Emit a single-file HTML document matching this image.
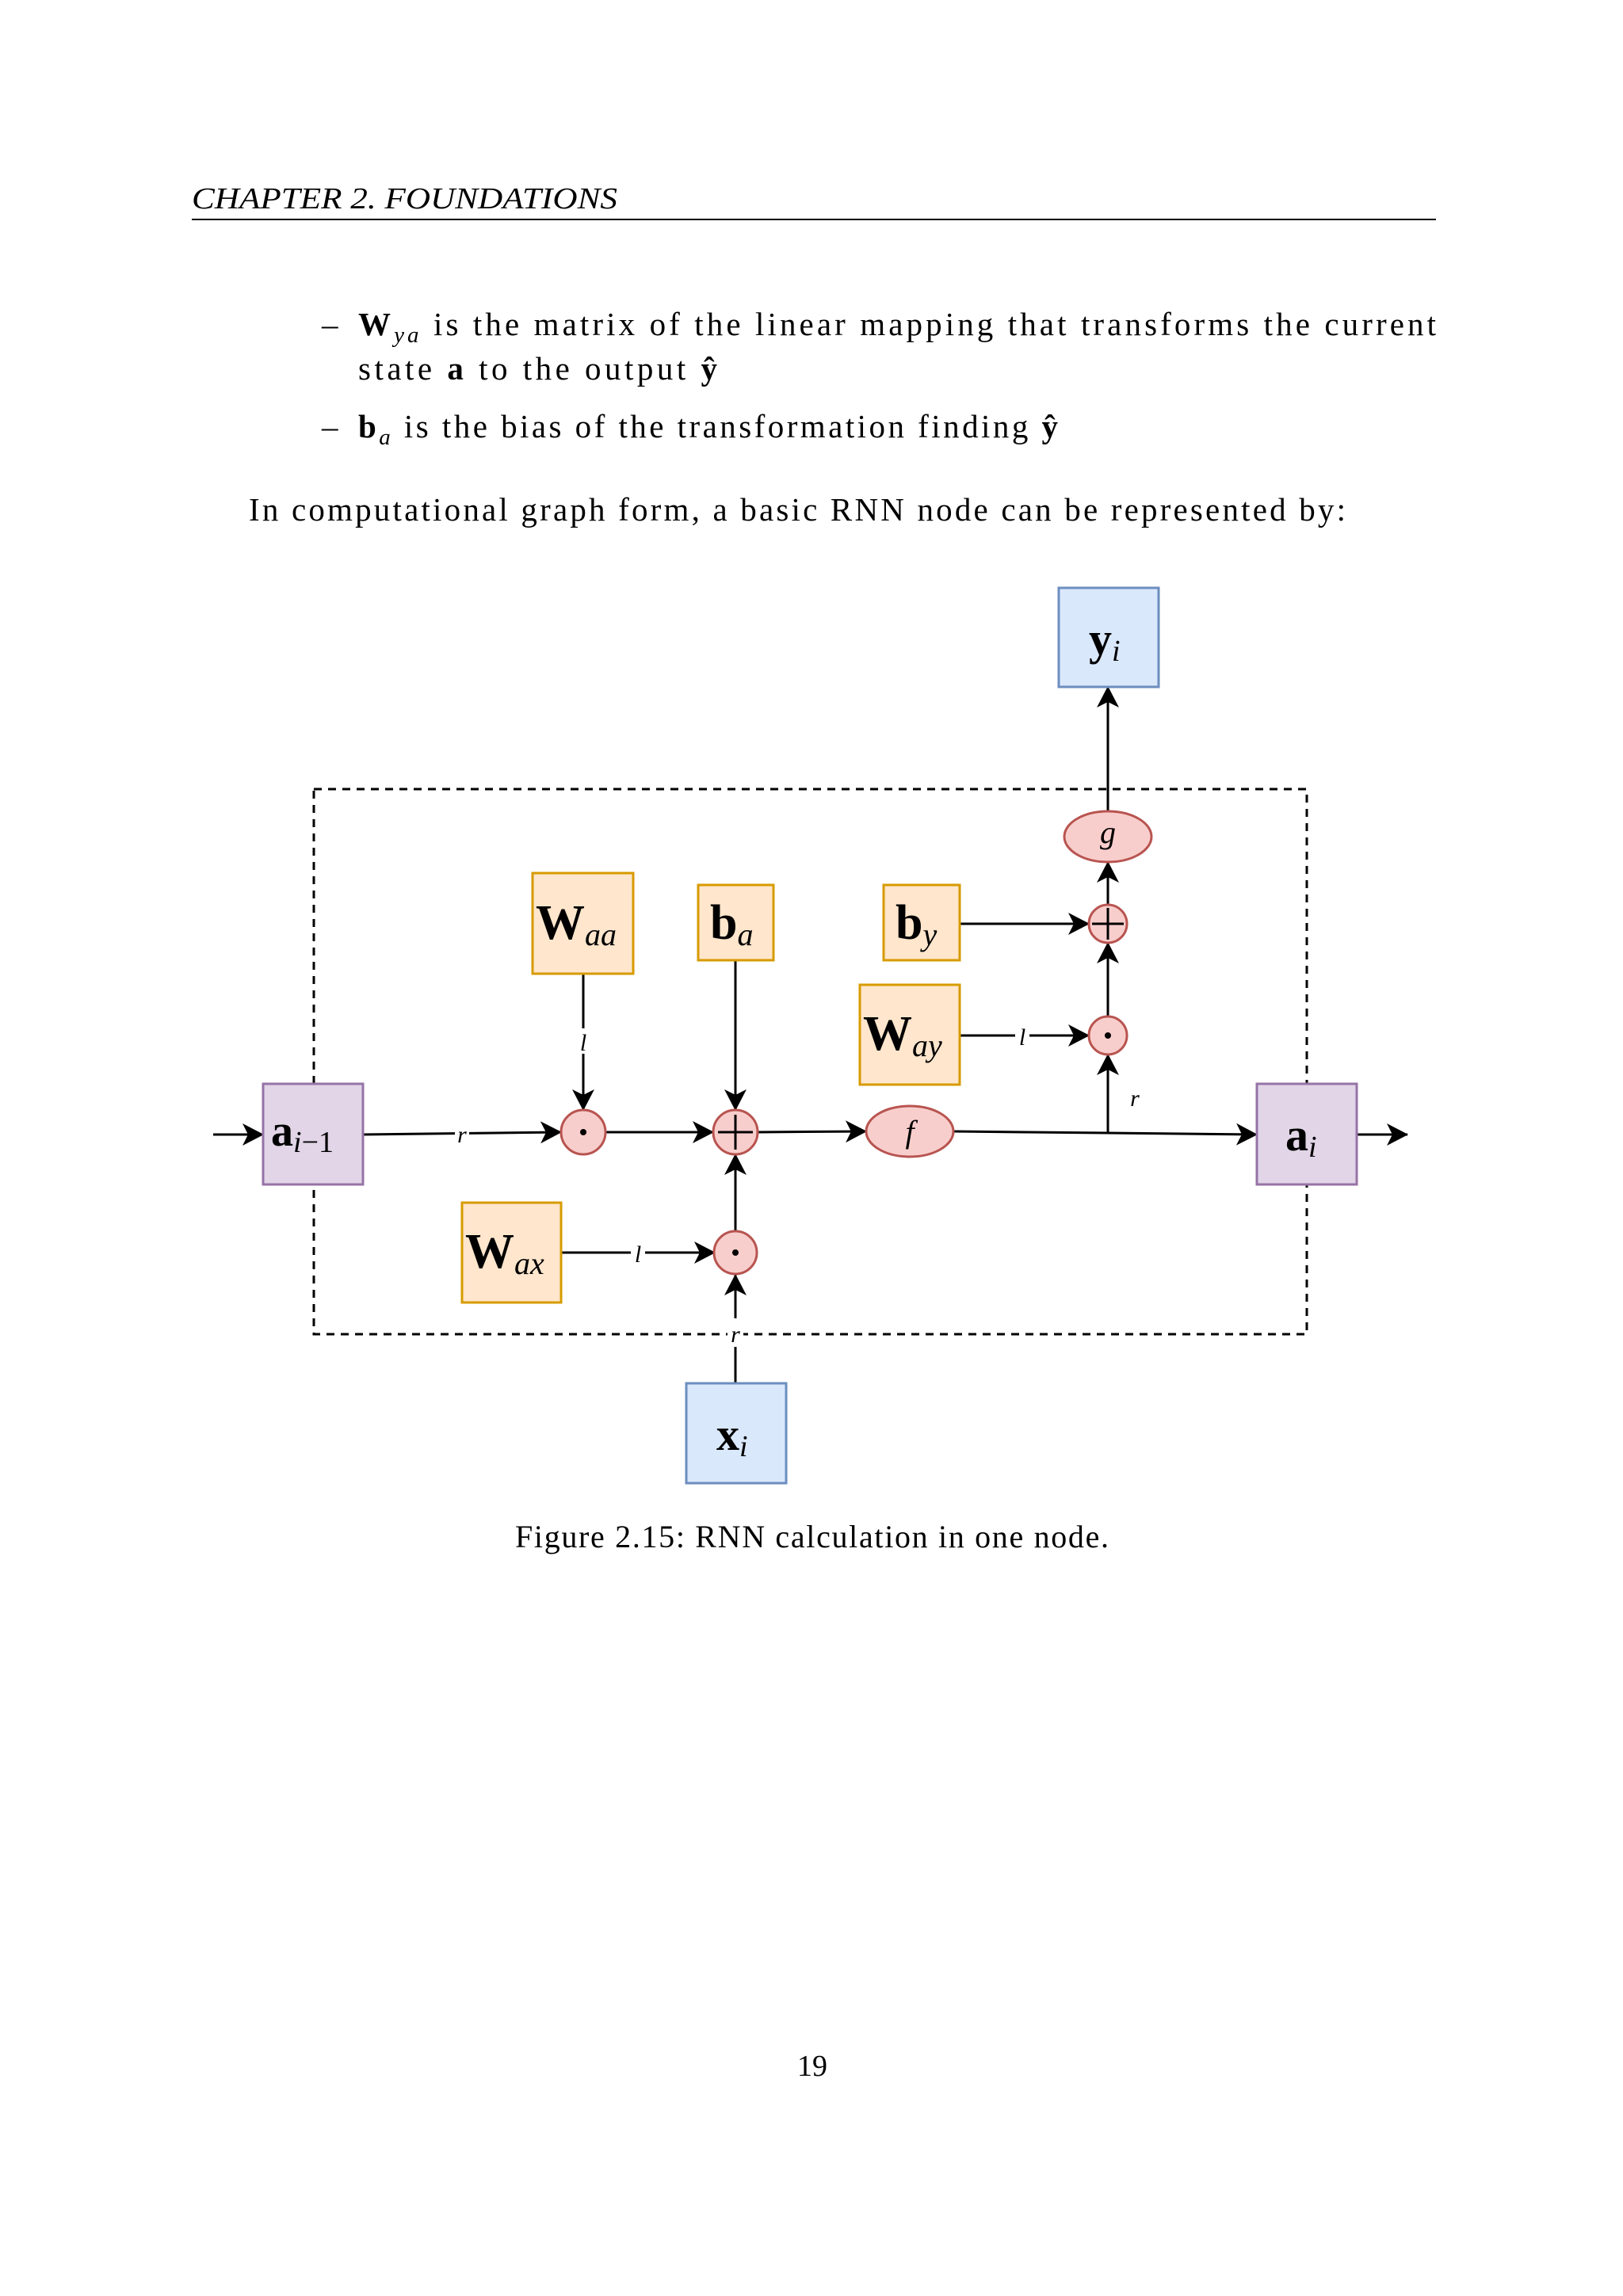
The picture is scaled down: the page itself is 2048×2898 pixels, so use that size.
<!DOCTYPE html>
<html><head><meta charset="utf-8"><style>
html,body{margin:0;padding:0;background:#fff;}
svg{display:block;}
text{font-family:"Liberation Serif",serif;fill:#000;}
</style></head><body>
<svg width="2048" height="2898" viewBox="0 0 2048 2898" xmlns="http://www.w3.org/2000/svg">
<defs>
<marker id="ar" markerWidth="28" markerHeight="28" refX="26" refY="14" orient="auto" markerUnits="userSpaceOnUse">
<path d="M0,0 L27,14 L0,28 L7,14 Z" fill="#000"/>
</marker>
</defs>
<!-- header -->
<text x="242" y="263" font-size="38" font-style="italic" textLength="537" lengthAdjust="spacingAndGlyphs">CHAPTER 2.  FOUNDATIONS</text>
<line x1="242" y1="277" x2="1812" y2="277" stroke="#000" stroke-width="2"/>
<!-- bullets -->
<text x="406" y="423" font-size="41">–</text>
<text x="452" y="423" font-size="41" textLength="1360" lengthAdjust="spacing"><tspan font-weight="bold">W</tspan><tspan font-style="italic" font-size="29" dy="9">ya</tspan><tspan dy="-9"> is the matrix of the linear mapping that transforms the current</tspan></text>
<text x="452" y="479" font-size="41" textLength="453" lengthAdjust="spacing">state <tspan font-weight="bold">a</tspan> to the output <tspan font-weight="bold">ŷ</tspan></text>
<text x="406" y="552" font-size="41">–</text>
<text x="452" y="552" font-size="41" textLength="883" lengthAdjust="spacing"><tspan font-weight="bold">b</tspan><tspan font-style="italic" font-size="29" dy="9">a</tspan><tspan dy="-9"> is the bias of the transformation finding </tspan><tspan font-weight="bold">ŷ</tspan></text>
<text x="314" y="657" font-size="41" textLength="1384" lengthAdjust="spacing">In computational graph form, a basic RNN node can be represented by:</text>

<!-- dashed frame -->
<rect x="396" y="996" width="1253" height="688" fill="none" stroke="#000" stroke-width="3" stroke-dasharray="10,8"/>

<g stroke="#000" stroke-width="3" fill="none">
<line x1="269" y1="1432" x2="332" y2="1432" marker-end="url(#ar)"/>
<line x1="458" y1="1432" x2="708" y2="1429" marker-end="url(#ar)"/>
<line x1="736" y1="1229" x2="736" y2="1401" marker-end="url(#ar)"/>
<line x1="764" y1="1429" x2="900" y2="1429" marker-end="url(#ar)"/>
<line x1="928" y1="1212" x2="928" y2="1401" marker-end="url(#ar)"/>
<line x1="956" y1="1429" x2="1093" y2="1428" marker-end="url(#ar)"/>
<line x1="1203" y1="1428" x2="1586" y2="1432" marker-end="url(#ar)"/>
<line x1="1398" y1="1429" x2="1398" y2="1331" marker-end="url(#ar)"/>
<line x1="1398" y1="1283" x2="1398" y2="1190" marker-end="url(#ar)"/>
<line x1="1398" y1="1142" x2="1398" y2="1088" marker-end="url(#ar)"/>
<line x1="1398" y1="1024" x2="1398" y2="867" marker-end="url(#ar)"/>
<line x1="1211" y1="1166" x2="1374" y2="1166" marker-end="url(#ar)"/>
<line x1="1211" y1="1307" x2="1374" y2="1307" marker-end="url(#ar)"/>
<line x1="1712" y1="1432" x2="1776" y2="1432" marker-end="url(#ar)"/>
<line x1="708" y1="1581" x2="902" y2="1581" marker-end="url(#ar)"/>
<line x1="928" y1="1746" x2="928" y2="1609" marker-end="url(#ar)"/>
<line x1="928" y1="1553" x2="928" y2="1457" marker-end="url(#ar)"/>
</g>
<!-- edge labels -->
<g font-size="30" font-style="italic" text-anchor="middle" font-family="Liberation Sans, sans-serif">
<rect x="574" y="1414" width="18" height="32" fill="#fff"/><text x="583" y="1442" font-family="Liberation Sans, sans-serif">r</text>
<rect x="727" y="1298" width="18" height="32" fill="#fff"/><text x="736" y="1326" font-family="Liberation Sans, sans-serif">l</text>
<rect x="1281" y="1291" width="18" height="32" fill="#fff"/><text x="1290" y="1319" font-family="Liberation Sans, sans-serif">l</text>
<rect x="796" y="1565" width="18" height="32" fill="#fff"/><text x="805" y="1593" font-family="Liberation Sans, sans-serif">l</text>
<text x="1432" y="1396" font-family="Liberation Sans, sans-serif">r</text>
<rect x="918" y="1664" width="20" height="36" fill="#fff"/><text x="928" y="1694" font-family="Liberation Sans, sans-serif">r</text>
</g>

<!-- boxes -->
<g stroke-width="3">
<rect x="1336" y="742" width="126" height="125" fill="#dae8fc" stroke="#6c8ebf"/>
<rect x="866" y="1746" width="126" height="126" fill="#dae8fc" stroke="#6c8ebf"/>
<rect x="332" y="1368" width="126" height="127" fill="#e1d5e7" stroke="#9673a6"/>
<rect x="1586" y="1368" width="126" height="127" fill="#e1d5e7" stroke="#9673a6"/>
<rect x="672" y="1102" width="127" height="127" fill="#ffe6cc" stroke="#d79b00"/>
<rect x="881" y="1117" width="95" height="95" fill="#ffe6cc" stroke="#d79b00"/>
<rect x="1115" y="1117" width="96" height="95" fill="#ffe6cc" stroke="#d79b00"/>
<rect x="1085" y="1243" width="126" height="126" fill="#ffe6cc" stroke="#d79b00"/>
<rect x="583" y="1518" width="125" height="126" fill="#ffe6cc" stroke="#d79b00"/>
</g>
<!-- operator nodes -->
<g fill="#f8cecc" stroke="#b85450" stroke-width="3">
<circle cx="736" cy="1429" r="28"/>
<circle cx="928" cy="1429" r="28"/>
<circle cx="928" cy="1581" r="27"/>
<circle cx="1398" cy="1166" r="24"/>
<circle cx="1398" cy="1307" r="24"/>
<ellipse cx="1148" cy="1428" rx="55" ry="32"/>
<ellipse cx="1398" cy="1056" rx="55" ry="32"/>
</g>
<g stroke="#000" stroke-width="3">
<line x1="906" y1="1429" x2="950" y2="1429"/><line x1="928" y1="1407" x2="928" y2="1451"/>
<line x1="1378" y1="1166" x2="1418" y2="1166"/><line x1="1398" y1="1146" x2="1398" y2="1186"/>
</g>
<g fill="#000">
<circle cx="736" cy="1429" r="4"/>
<circle cx="928" cy="1581" r="4"/>
<circle cx="1398" cy="1307" r="4"/>
</g>
<text x="1148" y="1442" font-size="40" font-style="italic" text-anchor="middle">f</text>
<text x="1398" y="1064" font-size="40" font-style="italic" text-anchor="middle">g</text>

<!-- box labels -->
<g font-weight="bold">
<text x="1374" y="826" font-size="58">y<tspan font-size="38" font-style="italic" font-weight="normal" dy="8">i</tspan></text>
<text x="904" y="1830" font-size="58">x<tspan font-size="38" font-style="italic" font-weight="normal" dy="8">i</tspan></text>
<text x="342" y="1446" font-size="56">a<tspan font-size="38" font-style="italic" font-weight="normal" dy="8">i</tspan><tspan font-size="38" font-weight="normal">−1</tspan></text>
<text x="1622" y="1452" font-size="58">a<tspan font-size="38" font-style="italic" font-weight="normal" dy="8">i</tspan></text>
<text x="676" y="1185" font-size="62">W<tspan font-size="40" font-style="italic" font-weight="normal" dy="8">aa</tspan></text>
<text x="896" y="1185" font-size="62">b<tspan font-size="40" font-style="italic" font-weight="normal" dy="8">a</tspan></text>
<text x="1130" y="1185" font-size="62">b<tspan font-size="40" font-style="italic" font-weight="normal" dy="8">y</tspan></text>
<text x="1089" y="1325" font-size="62">W<tspan font-size="40" font-style="italic" font-weight="normal" dy="8">ay</tspan></text>
<text x="587" y="1600" font-size="62">W<tspan font-size="40" font-style="italic" font-weight="normal" dy="8">ax</tspan></text>
</g>

<!-- caption & page number -->
<text x="650" y="1953" font-size="40" textLength="749" lengthAdjust="spacing">Figure 2.15: RNN calculation in one node.</text>
<text x="1025" y="2620" font-size="38" text-anchor="middle">19</text>
</svg>
</body></html>
